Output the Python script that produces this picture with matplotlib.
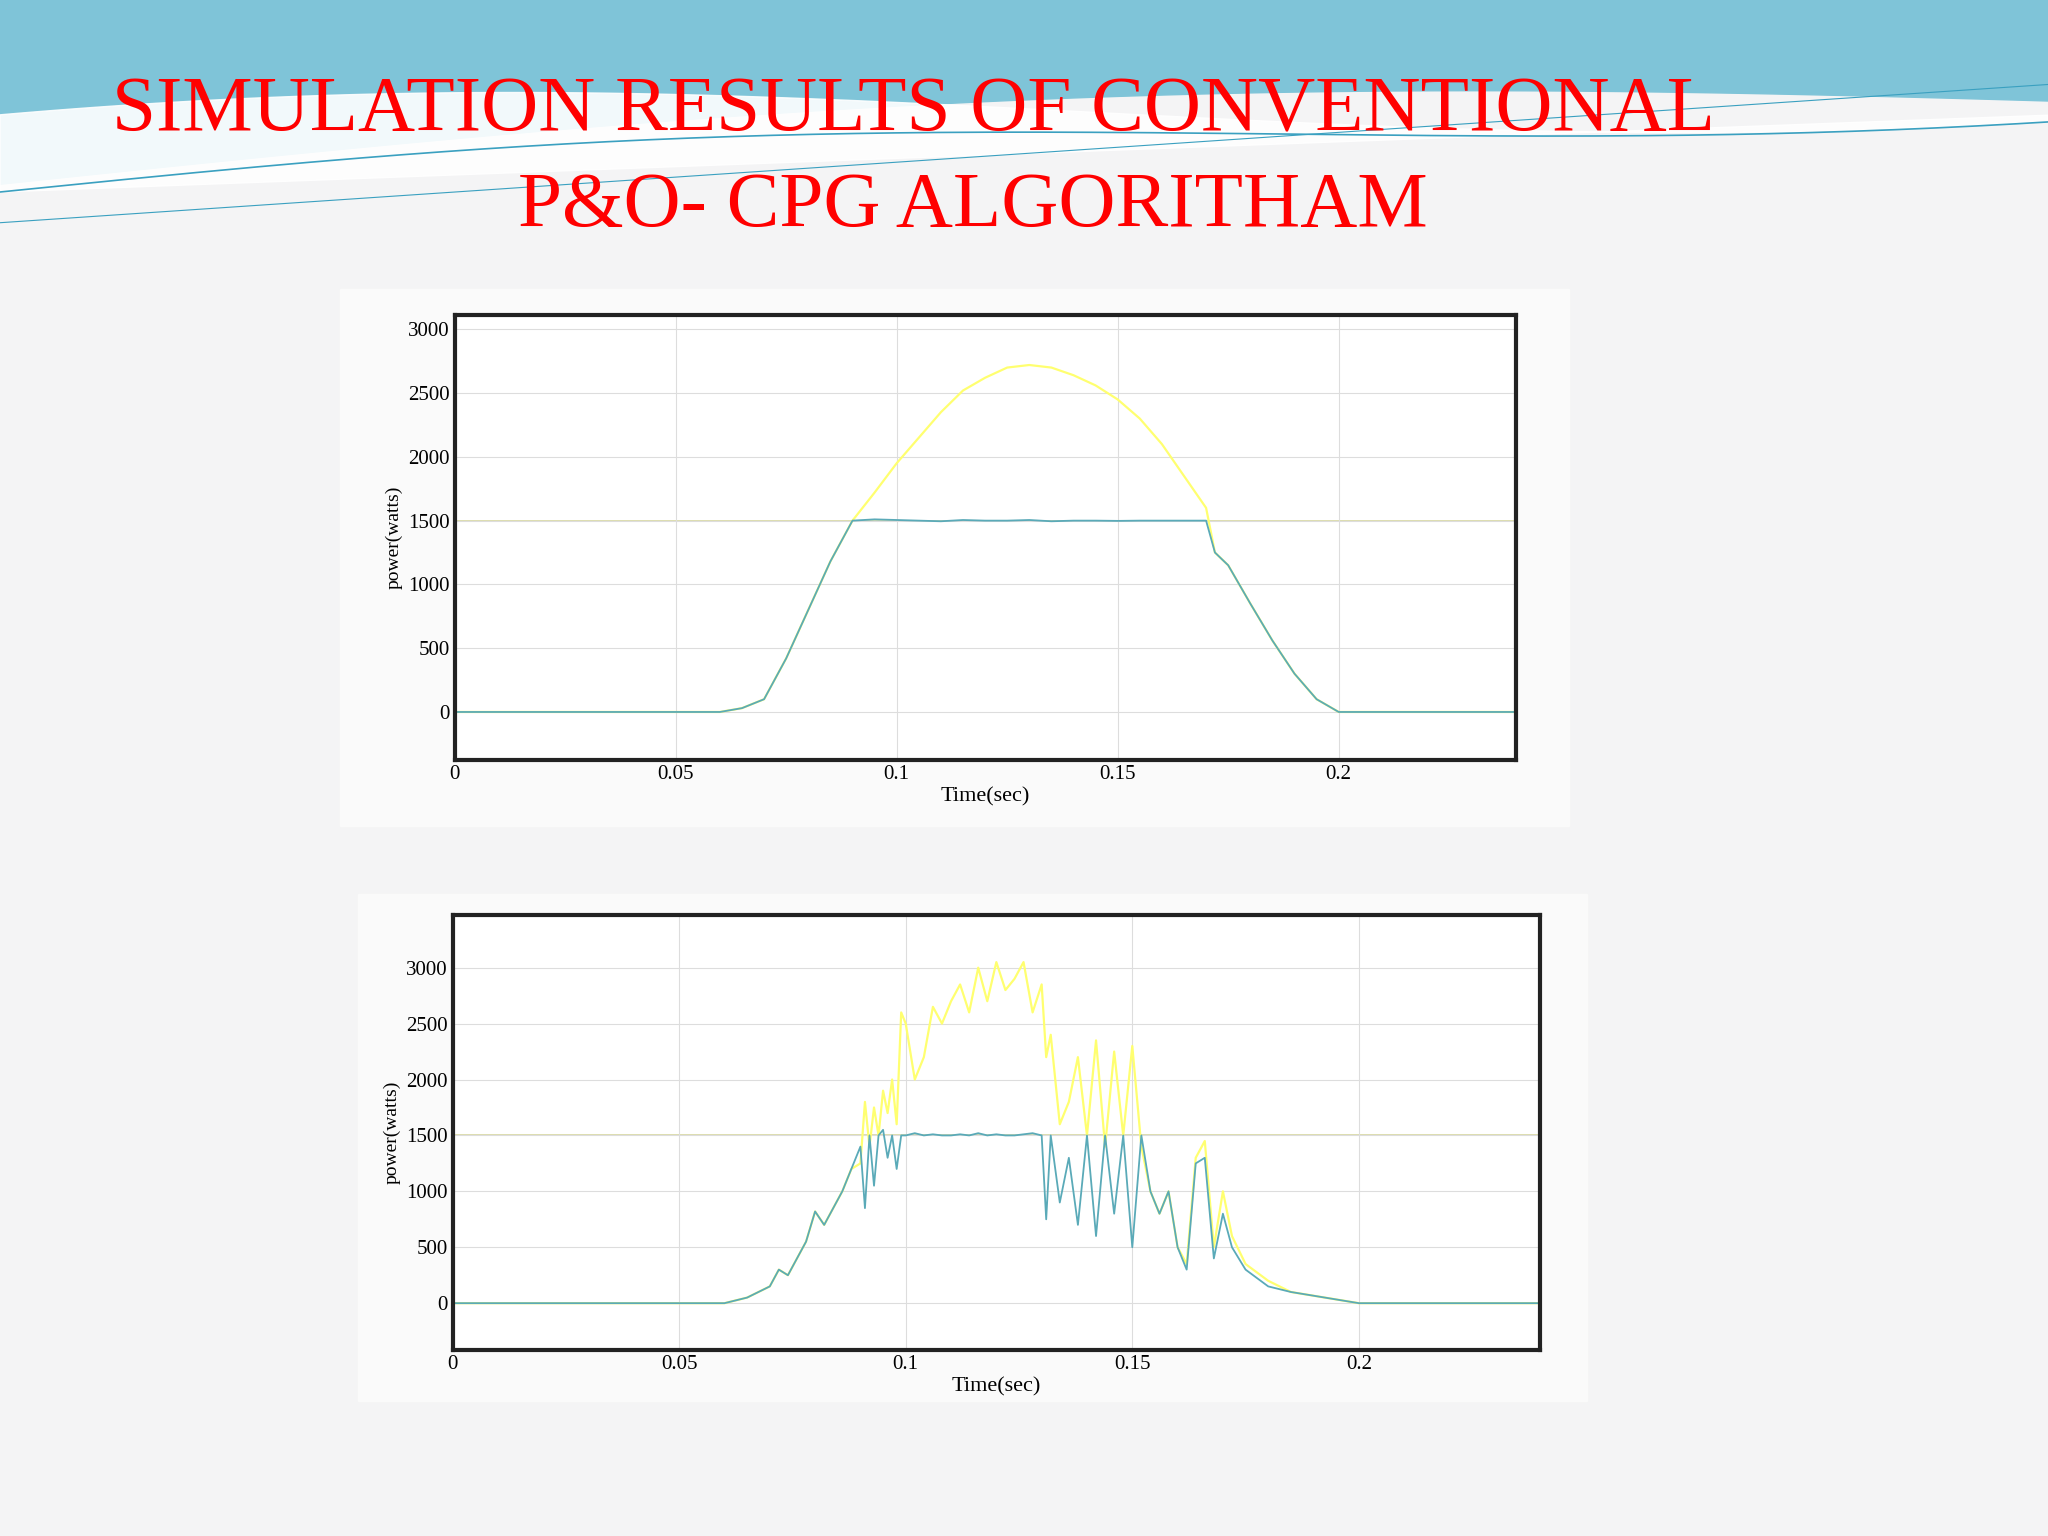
import numpy as np
import matplotlib
matplotlib.use("Agg")
import matplotlib.pyplot as plt
from matplotlib.patches import Rectangle

# --- top panel: conventional P&O ---
t1 = [0, 0.02, 0.04, 0.06, 0.065, 0.07, 0.075, 0.08, 0.085, 0.09, 0.095, 0.1, 0.105, 0.11, 0.115,
      0.12, 0.125, 0.13, 0.135, 0.14, 0.145, 0.15, 0.155, 0.16, 0.165, 0.17, 0.172, 0.175, 0.18,
      0.185, 0.19, 0.195, 0.2, 0.22, 0.24]
avail1 = [0, 0, 0, 0, 30, 100, 420, 800, 1180, 1500, 1720, 1950, 2150, 2350, 2520,
          2620, 2700, 2720, 2700, 2640, 2560, 2450, 2300, 2100, 1850, 1600, 1250, 1150, 850,
          560, 300, 100, 0, 0, 0]
out1 = [0, 0, 0, 0, 30, 100, 420, 800, 1180, 1500, 1510, 1505, 1500, 1495, 1505,
        1500, 1500, 1505, 1495, 1500, 1500, 1498, 1500, 1500, 1500, 1500, 1250, 1150, 850,
        560, 300, 100, 0, 0, 0]

# --- bottom panel: P&O with CPG ---
t2 = [0, 0.03, 0.06, 0.065, 0.07, 0.072, 0.074, 0.076, 0.078, 0.08, 0.082, 0.084, 0.086, 0.088,
      0.09, 0.091, 0.092, 0.093, 0.094, 0.095, 0.096, 0.097, 0.098, 0.099, 0.1, 0.102, 0.104,
      0.106, 0.108, 0.11, 0.112, 0.114, 0.116, 0.118, 0.12, 0.122, 0.124, 0.126, 0.128, 0.13,
      0.131, 0.132, 0.134, 0.136, 0.138, 0.14, 0.142, 0.144, 0.146, 0.148, 0.15, 0.152, 0.154,
      0.156, 0.158, 0.16, 0.162, 0.164, 0.166, 0.168, 0.17, 0.172, 0.175, 0.18, 0.185, 0.2, 0.24]
avail2 = [0, 0, 0, 50, 150, 300, 250, 400, 550, 820, 700, 850, 1000, 1200,
          1250, 1800, 1400, 1750, 1500, 1900, 1700, 2000, 1600, 2600, 2500, 2000, 2200,
          2650, 2500, 2700, 2850, 2600, 3000, 2700, 3050, 2800, 2900, 3050, 2600, 2850,
          2200, 2400, 1600, 1800, 2200, 1500, 2350, 1400, 2250, 1500, 2300, 1400, 1000,
          800, 1000, 500, 350, 1300, 1450, 500, 1000, 600, 350, 200, 100, 0, 0]
out2 = [0, 0, 0, 50, 150, 300, 250, 400, 550, 820, 700, 850, 1000, 1200,
        1400, 850, 1500, 1050, 1500, 1550, 1300, 1500, 1200, 1500, 1500, 1520, 1500,
        1510, 1500, 1500, 1510, 1500, 1520, 1500, 1510, 1500, 1500, 1510, 1520, 1500,
        750, 1500, 900, 1300, 700, 1500, 600, 1500, 800, 1500, 500, 1500, 1000,
        800, 1000, 500, 300, 1250, 1300, 400, 800, 500, 300, 150, 100, 0, 0]

fig = plt.figure(figsize=(20.48, 15.36), dpi=100)
fig.patch.set_facecolor("#f4f4f5")

# decorative header wave
bg = fig.add_axes([0, 0, 1, 1], zorder=-5)
bg.set_xlim(0, 1); bg.set_ylim(0, 1); bg.axis("off")
xs = np.linspace(0, 1, 200)
bg.fill_between(xs, 1, 0.88 + 0.05 * xs + 0.03 * np.sin(xs * 3), color="#7fc4d8")
bg.fill_between(xs, 0.90 + 0.03 * np.sin(xs * 4 + 1) + 0.05 * xs, 0.875 + 0.05 * xs, color="#ffffff", alpha=0.9)
bg.plot(xs, 0.875 + 0.06 * xs + 0.015 * np.sin(xs * 5), color="#3aa0c0", lw=1.2)
bg.plot(xs, 0.855 + 0.09 * xs, color="#3aa0c0", lw=0.8)
bg.add_patch(Rectangle((0.166, 0.462), 0.60, 0.35, color="#fafafa", zorder=0))
bg.add_patch(Rectangle((0.175, 0.088), 0.60, 0.33, color="#fafafa", zorder=0))

fig.text(0.446, 0.927, "SIMULATION RESULTS OF CONVENTIONAL", color="red",
         family="Liberation Serif", fontsize=57, ha="center", va="center")
fig.text(0.475, 0.865, "P&O- CPG ALGORITHAM", color="red",
         family="Liberation Serif", fontsize=57, ha="center", va="center")


def panel(rect, t, avail, out, ylim):
    ax = fig.add_axes(rect)
    ax.set_facecolor("white")
    ax.plot(t, avail, color="#ffff70", lw=1.6)
    ax.plot(t, out, color="#5aaab8", lw=1.3)
    ax.axhline(1500, color="#d8d8a0", lw=1.2, zorder=0)
    ax.set_xlim(0, 0.24); ax.set_ylim(*ylim)
    ax.set_yticks([0, 500, 1000, 1500, 2000, 2500, 3000])
    ax.set_xticks([0, 0.05, 0.1, 0.15, 0.2])
    ax.set_xticklabels(["0", "0.05", "0.1", "0.15", "0.2"])
    ax.grid(color="#dddddd", lw=0.8)
    for s in ax.spines.values():
        s.set_linewidth(3); s.set_color("#222222")
    ax.tick_params(length=0, labelsize=15, labelfontfamily="Liberation Serif")
    ax.set_ylabel("power(watts)", family="Liberation Serif", fontsize=14)
    ax.set_xlabel("Time(sec)", family="Liberation Serif", fontsize=16, labelpad=2)
    return ax


panel([0.222, 0.505, 0.518, 0.29], t1, avail1, out1, (-379, 3113))
panel([0.221, 0.121, 0.531, 0.283], t2, avail2, out2, (-420, 3467))

fig.savefig("out.png", dpi=100, facecolor=fig.get_facecolor())
